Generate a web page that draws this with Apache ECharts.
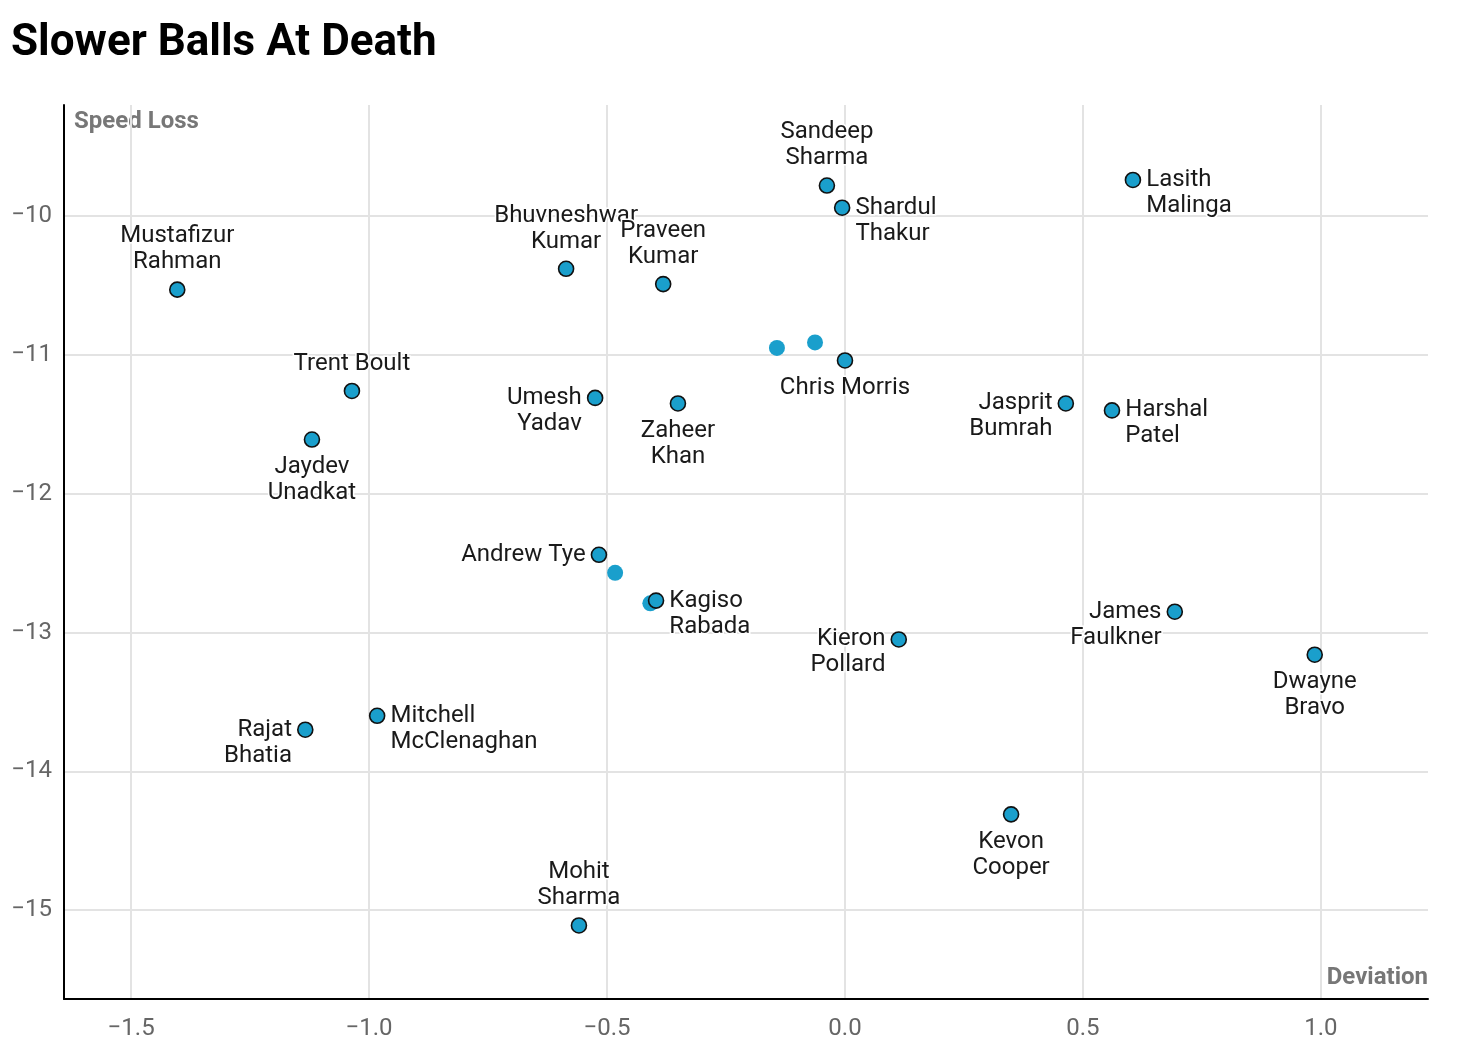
<!DOCTYPE html>
<html>
<head>
<meta charset="utf-8">
<title>Slower Balls At Death</title>
<script src="https://cdn.jsdelivr.net/npm/echarts@6/dist/echarts.min.js"></script>
<style>
  html, body { margin: 0; padding: 0; background: #fff; }
  #chart { width: 1462px; height: 1058px; }
</style>
</head>
<body>
<div id="chart"></div>
<script>
// named bowlers: name, deviation (x), speed loss (y), where the label sits
var bowlers = ['Mustafizur\nRahman', 'Trent Boult', 'Jaydev\nUnadkat', 'Bhuvneshwar\nKumar', 'Praveen\nKumar',
  'Sandeep\nSharma', 'Shardul\nThakur', 'Lasith\nMalinga', 'Chris Morris', 'Umesh\nYadav', 'Zaheer\nKhan',
  'Jasprit\nBumrah', 'Harshal\nPatel', 'Andrew Tye', 'Kagiso\nRabada', 'Kieron\nPollard', 'James\nFaulkner',
  'Dwayne\nBravo', 'Rajat\nBhatia', 'Mitchell\nMcClenaghan', 'Kevon\nCooper', 'Mohit\nSharma'];
var deviation = [-1.403, -1.036, -1.120, -0.586, -0.382,
  -0.038, -0.006, 0.605, 0.0, -0.525, -0.351,
  0.464, 0.561, -0.517, -0.397, 0.113, 0.693,
  0.987, -1.134, -0.983, 0.349, -0.559];
var speedLoss = [-10.53, -11.26, -11.61, -10.38, -10.49,
  -9.78, -9.94, -9.74, -11.04, -11.31, -11.35,
  -11.35, -11.40, -12.44, -12.77, -13.05, -12.85,
  -13.16, -13.70, -13.60, -14.31, -15.11];
var labelPos = ['top', 'top', 'bottom', 'top', 'top',
  'top', 'right', 'right', 'bottom', 'left', 'bottom',
  'left', 'right', 'left', 'right', 'left', 'left',
  'bottom', 'left', 'right', 'bottom', 'top'];

// the other bowlers, no label
var otherDeviation = [-0.143, -0.063, -0.483, -0.409];
var otherSpeedLoss = [-10.95, -10.91, -12.57, -12.79];

var xMin = -1.641, xMax = 1.225;
var yMin = -15.64, yMax = -9.2;

var myChart = echarts.init(document.getElementById('chart'));

function minus(s) {
  return String(s).replace('-', '\u2212');
}

var namedData = [];
bowlers.forEach(function (name, i) {
  var pos = labelPos[i];
  var label = { position: pos };
  if (pos == 'left' || pos == 'right') label.distance = 5;
  namedData.push({ name: name, value: [deviation[i], speedLoss[i]], label: label });
});

var otherData = [];
otherDeviation.forEach(function (x, i) {
  otherData.push([x, otherSpeedLoss[i]]);
});

// side labels: blank lines on top so the first line of the name sits level with the dot
function labelText(params) {
  var pos = labelPos[params.dataIndex];
  var name = params.name;
  if (pos == 'left' || pos == 'right') {
    var extra = name.split('\n').length - 1;
    for (var k = 0; k < extra; k++) name = '\n' + name;
  }
  return name;
}

var option = {
  backgroundColor: '#fff',
  animation: false,
  textStyle: { fontFamily: 'Roboto' },
  title: {
    text: 'Slower Balls At Death',
    left: 6,
    top: 17,
    textStyle: { fontFamily: 'Roboto', fontWeight: 'bold', fontSize: 44, color: '#000' }
  },
  grid: { left: 64, right: 34, top: 105, bottom: 59 },
  xAxis: {
    type: 'value',
    min: xMin,
    max: xMax,
    axisLine: { lineStyle: { color: '#000', width: 2 } },
    axisTick: { show: false },
    axisLabel: {
      showMinLabel: false, showMaxLabel: false,
      fontSize: 24, color: '#666', margin: 18,
      formatter: function (v) { return minus(v.toFixed(1)); }
    },
    splitLine: { show: true, showMinLine: false, showMaxLine: false, lineStyle: { color: '#e3e3e3', width: 2 } }
  },
  yAxis: {
    type: 'value',
    min: yMin,
    max: yMax,
    axisLine: { show: true, onZero: false, lineStyle: { color: '#000', width: 2 } },
    axisTick: { show: false },
    axisLabel: {
      showMinLabel: false, showMaxLabel: false,
      fontSize: 24, color: '#666', margin: 12,
      formatter: function (v) { return minus(v); }
    },
    splitLine: { show: true, showMinLine: false, showMaxLine: false, lineStyle: { color: '#e3e3e3', width: 2 } }
  },
  graphic: [
    { type: 'text', left: 74, top: 110, style: { text: 'Speed Loss', font: 'bold 24px Roboto', fill: '#777' } },
    { type: 'text', right: 34, top: 966, style: { text: 'Deviation', font: 'bold 24px Roboto', fill: '#777' } }
  ],
  series: [
    {
      name: 'other',
      type: 'scatter',
      symbolSize: 16,
      itemStyle: { color: '#1a9fcc', opacity: 1 },
      data: otherData,
      z: 2
    },
    {
      name: 'named',
      type: 'scatter',
      symbolSize: 15,
      itemStyle: { color: '#1a9fcc', borderColor: '#111', borderWidth: 1.6, opacity: 1 },
      label: {
        show: true,
        formatter: labelText,
        distance: 6,
        fontFamily: 'Roboto',
        fontSize: 24,
        lineHeight: 26,
        color: '#1a1a1a',
        textBorderColor: '#fff',
        textBorderWidth: 3
      },
      labelLayout: { hideOverlap: false },
      data: namedData,
      z: 3
    }
  ]
};

myChart.setOption(option);
</script>
</body>
</html>
